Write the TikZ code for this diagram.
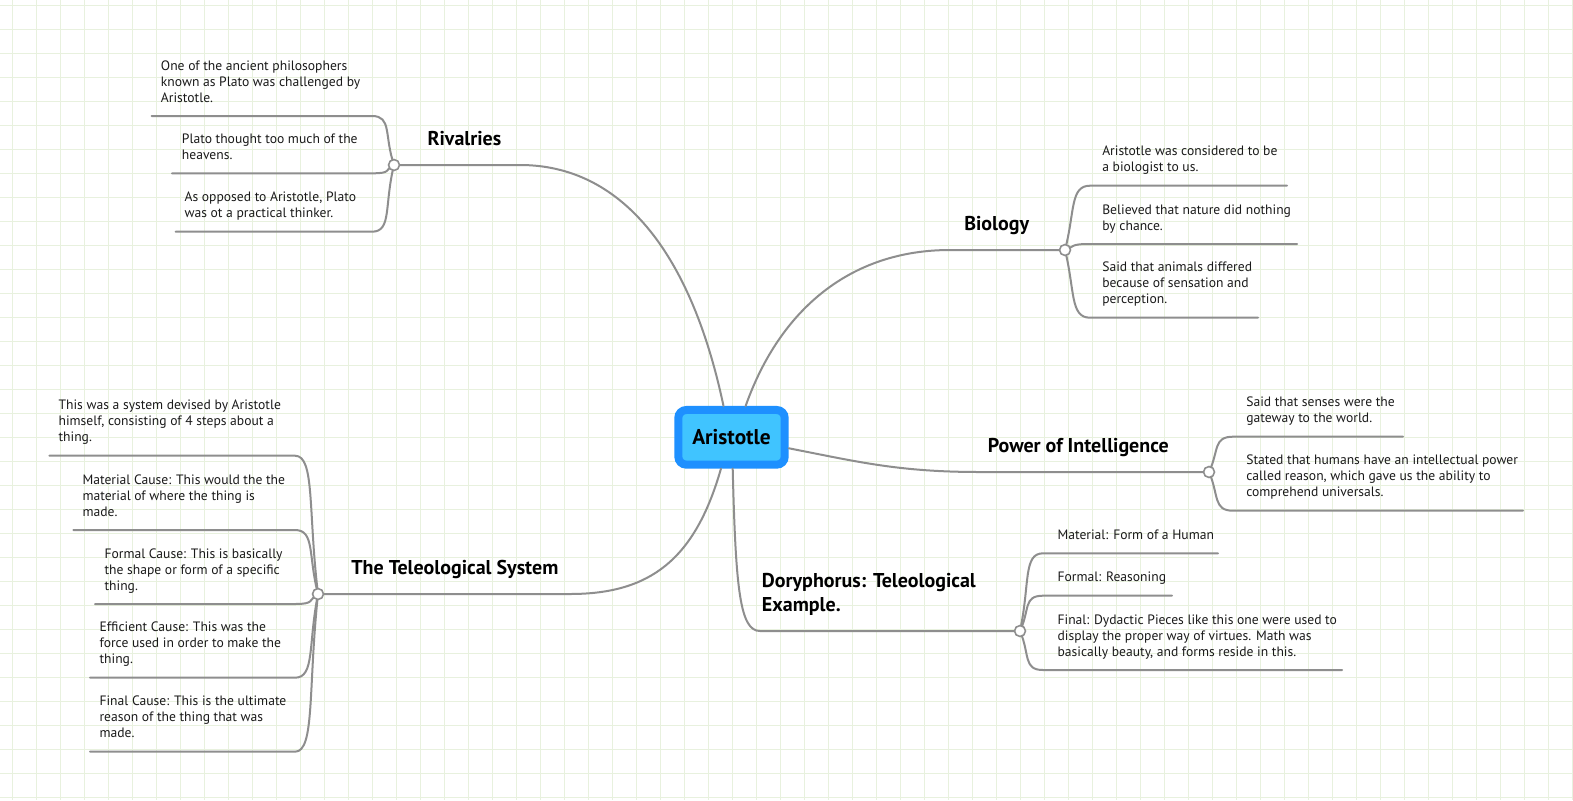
\documentclass[tikz,border=0pt]{standalone}
\usepackage{fontspec}
\setmainfont{PT Sans}
\usetikzlibrary{calc}
\definecolor{gridc}{HTML}{E8F1DE}
\definecolor{linec}{HTML}{8E8E8E}
\definecolor{blueo}{HTML}{1E90FF}
\definecolor{bluei}{HTML}{40C4FF}
\definecolor{txt}{HTML}{1A1A1A}
\tikzset{
  conn/.style={draw=linec, line width=1.5pt, line cap=round},
  hub/.style={circle, draw=linec, fill=white, line width=1.2pt, minimum size=8.2pt, inner sep=0},
  leaftext/.style={anchor=base west, inner sep=0, align=left, text=txt, font=\fontsize{10.2}{12}\selectfont},
  titletext/.style={anchor=base west, inner sep=0, align=left, text=black, font=\fontsize{15}{18}\selectfont\bfseries},
  central/.style={rectangle, rounded corners=6pt, draw=blueo, fill=bluei, line width=6pt, minimum width=79.8pt, minimum height=41pt, inner sep=0, font=\fontsize{16}{18}\selectfont\bfseries, text=black}
}
\newcommand\leafL[3]{\draw[conn] (#1.center) .. controls ($(#1.center)!0.6!(#1.center|-#2)+(-10,0)$) and ($(#2)+(20,0)$) .. (#2) -- (#3);}
\newcommand\leafR[3]{\draw[conn] (#1.center) .. controls ($(#1.center)!0.6!(#1.center|-#2)+(10,0)$) and ($(#2)+(-20,0)$) .. (#2) -- (#3);}
\begin{document}
\begin{tikzpicture}[x=0.75pt, y=-0.75pt]
\useasboundingbox (0,0) rectangle (1573,800);
\fill[white] (0,0) rectangle (1573,800);
\foreach \gx in {12.5,36.5,...,1573} \draw[gridc, line width=0.75pt] (\gx,0) -- (\gx,800);
\foreach \gy in {5,29,...,800} \draw[gridc, line width=0.75pt] (0,\gy) -- (1573,\gy);

% hub positions
\coordinate (Rp) at (394,165);
\coordinate (Bp) at (1065,250);
\coordinate (Pp) at (1209,472);
\coordinate (Dp) at (1020,631);
\coordinate (Tp) at (318,594);

% central
\node[central] (A) at (731.5,437.3) {Aristotle};

% main connectors
\begin{scope}[on background layer/.style={}]
\draw[conn] ([xshift=-6pt]A.north) .. controls +(-33,-156) and +(100,0) .. ($(Rp)+(126,0)$) -- (Rp);
\draw[conn] ([xshift=10.6pt]A.north) .. controls +(34,-96) and +(-100,0) .. ($(Bp)+(-115,0)$) -- (Bp);
\draw[conn] ([yshift=-8.2pt]A.east) .. controls +(71,14) and +(-80,0) .. ($(Pp)+(-229,0)$) -- (Pp);
\draw[conn] ([xshift=-7.9pt]A.south) .. controls +(-26,91) and +(80,0) .. ($(Tp)+(252,0)$) -- (Tp);
\draw[conn] ([xshift=0.9pt]A.south) .. controls +(3,121) and +(-20,0) .. ($(Dp)+(-260,0)$) -- (Dp);
\end{scope}

% leaf coordinates
\coordinate (r1s) at (372,116);   \coordinate (r1e) at (151.7,116);
\coordinate (r2s) at (372,173.3); \coordinate (r2e) at (172,173.3);
\coordinate (r3s) at (372,231.7); \coordinate (r3e) at (175.7,231.7);
\coordinate (b1s) at (1090,185.7); \coordinate (b1e) at (1287,185.7);
\coordinate (b2s) at (1090,244);   \coordinate (b2e) at (1297,244);
\coordinate (b3s) at (1090,317.7); \coordinate (b3e) at (1258,317.7);
\coordinate (p1s) at (1233,436.7); \coordinate (p1e) at (1403,436.7);
\coordinate (p2s) at (1233,510.7); \coordinate (p2e) at (1523,510.7);
\coordinate (d1s) at (1043,553.3); \coordinate (d1e) at (1218,553.3);
\coordinate (d2s) at (1043,595.7); \coordinate (d2e) at (1172,595.7);
\coordinate (d3s) at (1043,670);   \coordinate (d3e) at (1342,670);
\coordinate (t1s) at (295,455.7); \coordinate (t1e) at (49.3,455.7);
\coordinate (t2s) at (295,530);   \coordinate (t2e) at (73.3,530);
\coordinate (t3s) at (295,604);   \coordinate (t3e) at (95,604);
\coordinate (t4s) at (295,677.7); \coordinate (t4e) at (90,677.7);
\coordinate (t5s) at (295,751.7); \coordinate (t5e) at (90,751.7);

\leafL{Rp}{r1s}{r1e} \leafL{Rp}{r2s}{r2e} \leafL{Rp}{r3s}{r3e}
\leafR{Bp}{b1s}{b1e} \leafR{Bp}{b2s}{b2e} \leafR{Bp}{b3s}{b3e}
\leafR{Pp}{p1s}{p1e} \leafR{Pp}{p2s}{p2e}
\leafR{Dp}{d1s}{d1e} \leafR{Dp}{d2s}{d2e} \leafR{Dp}{d3s}{d3e}
\leafL{Tp}{t1s}{t1e} \leafL{Tp}{t2s}{t2e} \leafL{Tp}{t3s}{t3e} \leafL{Tp}{t4s}{t4e} \leafL{Tp}{t5s}{t5e}

% hubs
\node[hub] (R) at (Rp) {};
\node[hub] (B) at (Bp) {};
\node[hub] (P) at (Pp) {};
\node[hub] (D) at (Dp) {};
\node[hub] (T) at (Tp) {};

% titles (anchor = baseline of last line)
\node[titletext] (Rt) at (427.3,145) {Rivalries};
\node[titletext] (Bt) at (964,230) {Biology};
\node[titletext] (Pt) at (987.7,452.7) {Power of Intelligence};
\node[titletext] (Dt) at (761.7,611) {Doryphorus: Teleological\\Example.};
\node[titletext] (Tt) at (351,574.3) {The Teleological System};

% leaf texts (anchor = baseline of last line, 14px above underline)
\node[leaftext] (r1) at (160.7,102) {One of the ancient philosophers\\known as Plato was challenged by\\Aristotle.};
\node[leaftext] (r2) at (181.7,159.3) {Plato thought too much of the\\heavens.};
\node[leaftext] (r3) at (184.3,217.7) {As opposed to Aristotle, Plato\\was ot a practical thinker.};

\node[leaftext] (b1) at (1102,171.7) {Aristotle was considered to be\\a biologist to us.};
\node[leaftext] (b2) at (1102,230) {Believed that nature did nothing\\by chance.};
\node[leaftext] (b3) at (1102,303.7) {Said that animals differed\\because of sensation and\\perception.};

\node[leaftext] (p1) at (1246,422.7) {Said that senses were the\\gateway to the world.};
\node[leaftext] (p2) at (1246,496.7) {Stated that humans have an intellectual power\\called reason, which gave us the ability to\\comprehend universals.};

\node[leaftext] (d1) at (1057.3,539.3) {Material: Form of a Human};
\node[leaftext] (d2) at (1057.3,581.7) {Formal: Reasoning};
\node[leaftext] (d3) at (1057.3,656) {Final: Dydactic Pieces like this one were used to\\display the proper way of virtues. Math was\\basically beauty, and forms reside in this.};

\node[leaftext] (t1) at (58.3,441.7) {This was a system devised by Aristotle\\himself, consisting of 4 steps about a\\thing.};
\node[leaftext] (t2) at (82.3,516) {Material Cause: This would the the\\material of where the thing is\\made.};
\node[leaftext] (t3) at (104.3,590) {Formal Cause: This is basically\\the shape or form of a specific\\thing.};
\node[leaftext] (t4) at (99.3,663.7) {Efficient Cause: This was the\\force used in order to make the\\thing.};
\node[leaftext] (t5) at (99.3,737.7) {Final Cause: This is the ultimate\\reason of the thing that was\\made.};
\end{tikzpicture}
\end{document}
